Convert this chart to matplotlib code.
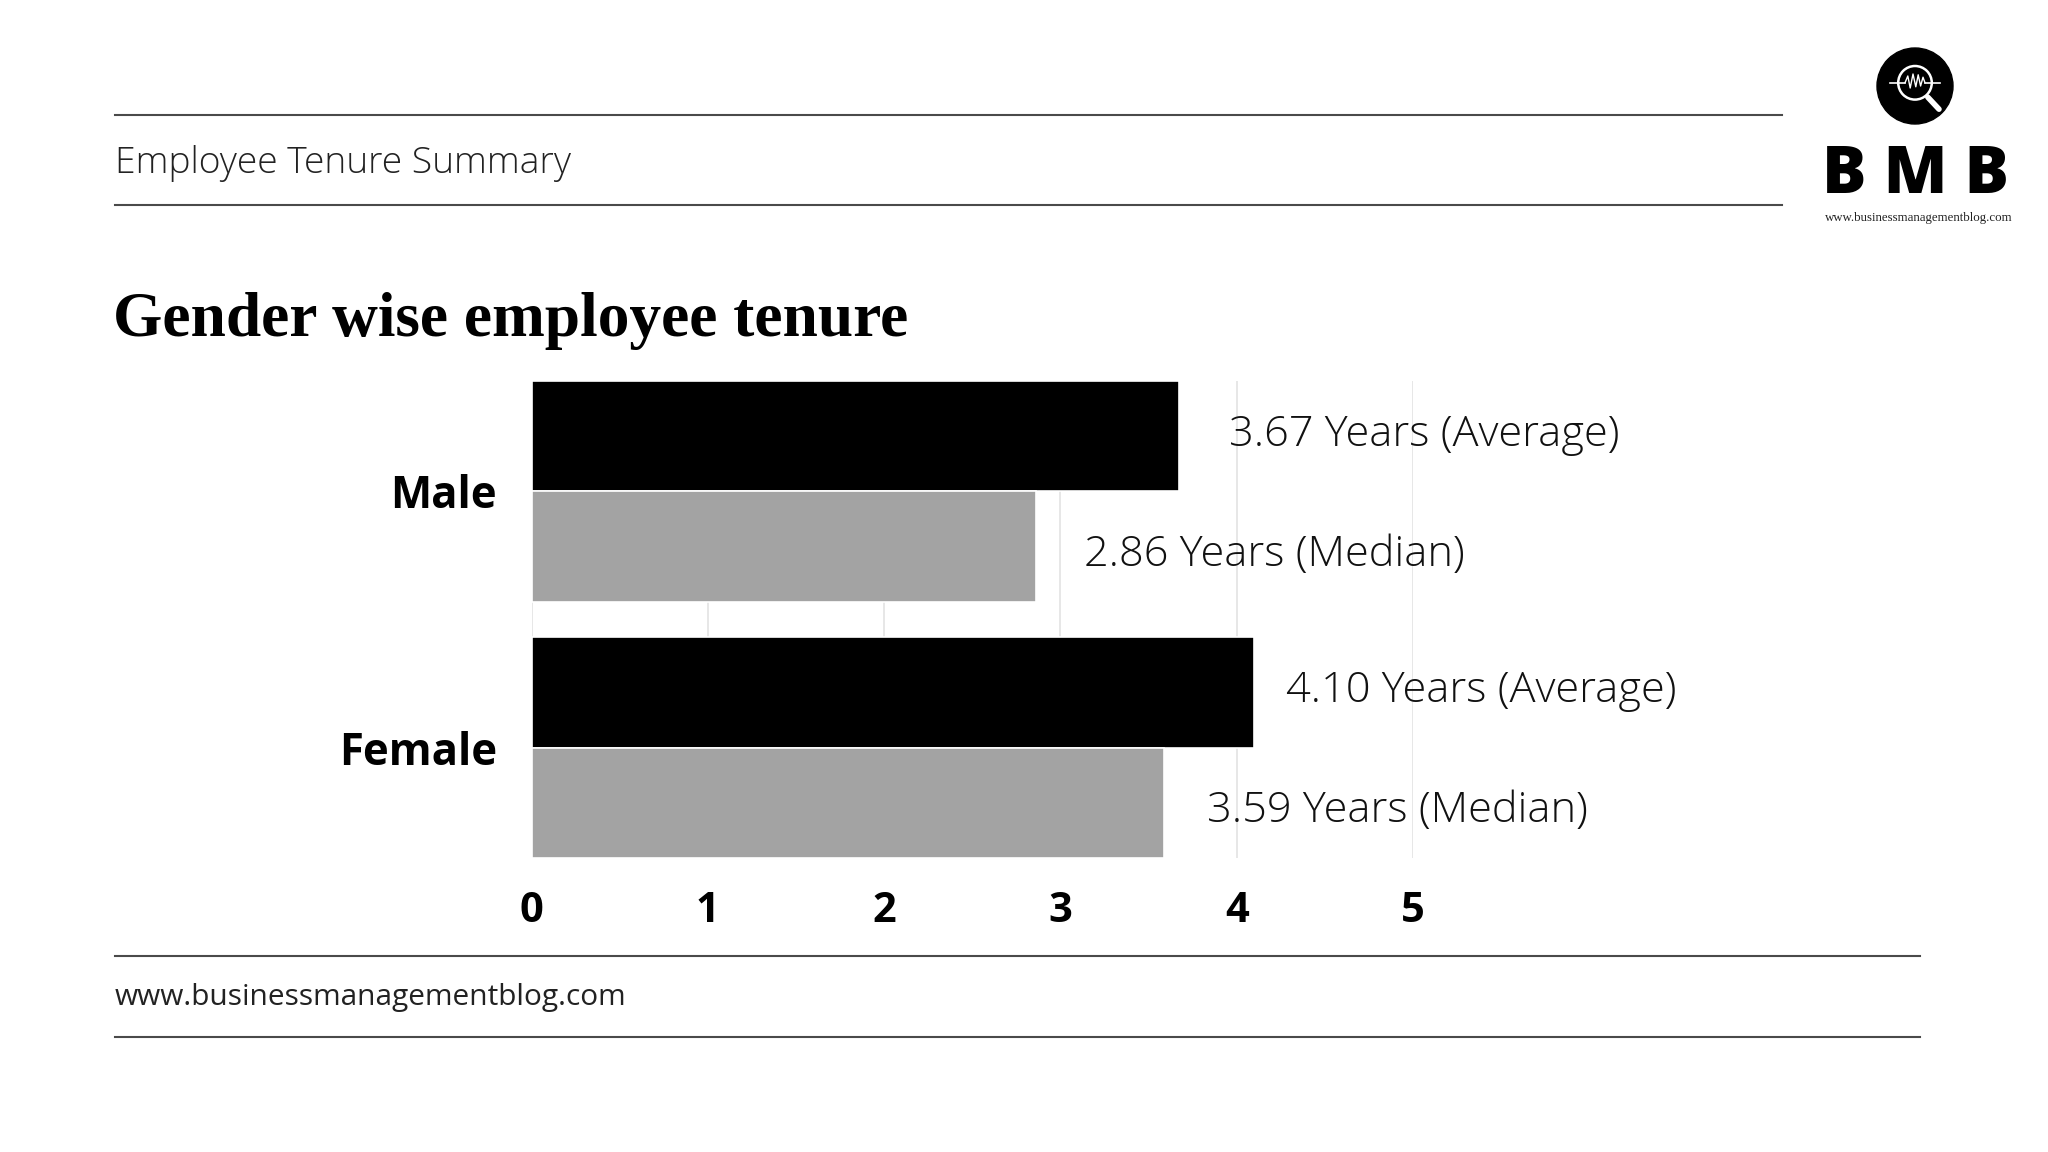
import numpy as np
import matplotlib
matplotlib.use('Agg')
import matplotlib.pyplot as plt
from matplotlib.lines import Line2D
from matplotlib.patches import Circle

genders = ['Male', 'Female']
average = [3.67, 4.10]
median = [2.86, 3.59]
xticks = [0, 1, 2, 3, 4, 5]

W, H = 2048, 1152
plt.rcParams['font.family'] = ['Open Sans', 'DejaVu Sans']

fig = plt.figure(figsize=(W / 100, H / 100), dpi=100)
fig.patch.set_facecolor('white')


def fx(px):
    return px / W


def fy(py):
    return 1 - py / H


def hline(y, x0, x1):
    fig.add_artist(Line2D([fx(x0), fx(x1)], [fy(y), fy(y)], transform=fig.transFigure,
                          color='#4a4a4a', lw=1.5))


# header / footer
hline(115, 115, 1782)
hline(205, 115, 1782)
fig.text(fx(115), fy(163), 'Employee Tenure Summary', fontsize=26.8, fontweight='light',
         va='center', ha='left', color='#222222')
fig.text(fx(113), fy(321), 'Gender wise employee tenure', family='Liberation Serif',
         fontsize=45.6, fontweight='bold', va='center', ha='left', color='black')
hline(956, 115, 1920)
hline(1037, 115, 1920)
fig.text(fx(115), fy(997), 'www.businessmanagementblog.com', fontsize=21.5,
         va='center', ha='left', color='#222222')

# logo
lax = fig.add_axes([fx(1875), fy(126), fx(80) - fx(0), 80 / H])
lax.set_xlim(-1, 1)
lax.set_ylim(-1, 1)
lax.set_aspect('equal')
lax.axis('off')
lax.add_patch(Circle((0, 0), 0.95, color='black'))
lax.add_patch(Circle((0, 0.08), 0.42, fill=False, ec='white', lw=1.8))
lax.plot([-0.62, -0.25], [0.08, 0.08], color='white', lw=1.2)
lax.plot([0.25, 0.62], [0.08, 0.08], color='white', lw=1.2)
lax.plot([-0.25, -0.18, -0.12, -0.05, 0.02, 0.08, 0.14, 0.2, 0.25],
         [0.08, 0.25, -0.05, 0.3, -0.02, 0.28, 0.0, 0.22, 0.08], color='white', lw=1.0)
lax.plot([0.32, 0.6], [-0.28, -0.58], color='white', lw=4, solid_capstyle='round')
fig.text(fx(1915), fy(176), 'B M B', fontsize=47.5, fontweight='heavy', ha='center',
         va='center', color='black')
fig.text(fx(1919), fy(218), 'www.businessmanagementblog.com', family='Liberation Serif',
         fontsize=9.3, ha='center', va='center', color='#222222')

# chart
ax = fig.add_axes([fx(531.5), fy(858), fx(1413) - fx(531.5), (858 - 381) / H])
y = np.arange(len(genders))
h = 0.43
ax.barh(y - h / 2, average, height=h, color='black', edgecolor='white', lw=1.2)
ax.barh(y + h / 2, median, height=h, color='#a3a3a3', edgecolor='white', lw=1.2)
ax.set_xlim(0, 5)
ax.set_ylim(len(genders) - 1 + h, -h)

pads = [(50, 48), (32, 43)]
for i in range(len(genders)):
    ax.annotate(f'{average[i]:.2f} Years (Average)', (average[i], y[i] - h / 2),
                xytext=(pads[i][0] * 0.72, 1), textcoords='offset points',
                va='center', ha='left', fontsize=31.2, fontweight='light', color='#111111')
    ax.annotate(f'{median[i]:.2f} Years (Median)', (median[i], y[i] + h / 2),
                xytext=(pads[i][1] * 0.72, -6), textcoords='offset points',
                va='center', ha='left', fontsize=31.2, fontweight='light', color='#111111')

ax.set_xticks(xticks)
ax.set_xticklabels([str(t) for t in xticks], fontsize=30, fontweight='bold')
ax.set_yticks(y)
ax.set_yticklabels(genders, fontsize=31.5, fontweight='bold')
ax.tick_params(axis='x', length=0, pad=24)
ax.tick_params(axis='y', length=0, pad=25)
ax.grid(axis='x', color='#e3e3e3', lw=1.2)
ax.set_axisbelow(True)
for s in ax.spines.values():
    s.set_visible(False)

fig.savefig('out.png', dpi=100, facecolor='white')
